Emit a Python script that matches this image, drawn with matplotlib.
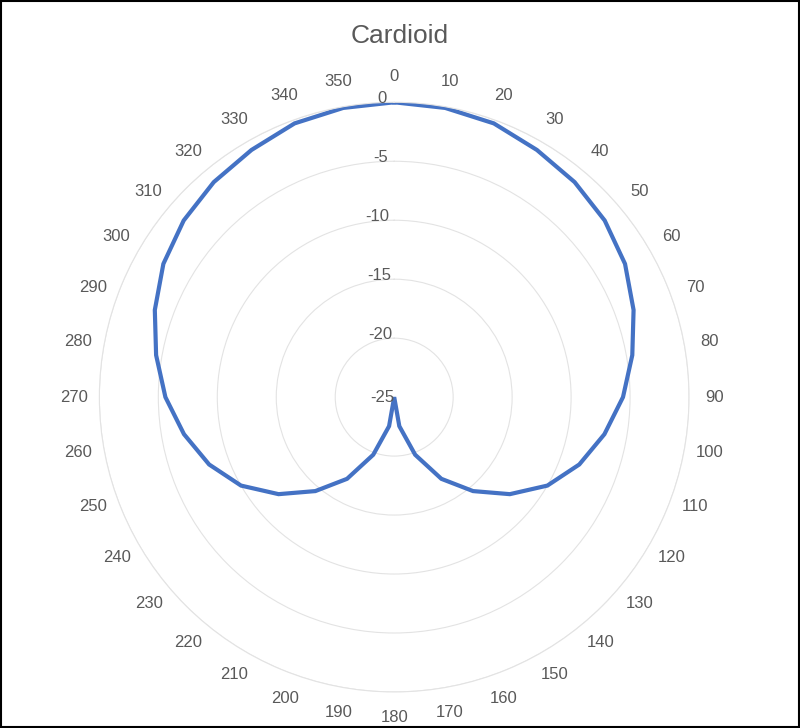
import numpy as np
import matplotlib.pyplot as plt

# angle categories (degrees) and response (dB)
angles = list(range(0, 360, 10))
half = [0, -0.1, -0.3, -0.8, -1.2, -1.7, -2.4, -3.4, -4.5, -5.6,
        -6.9, -8.3, -10.0, -12.2, -14.6, -17.0, -19.8, -22.5, -25.0]
values = half + half[-2:0:-1]
rings = [-25, -20, -15, -10, -5, 0]

plt.rcParams['font.family'] = ['Liberation Sans', 'DejaVu Sans']
fig = plt.figure(figsize=(8, 7.28), dpi=100)
ax = fig.add_axes([0.124, 0.0495, 0.7375, 0.810], projection='polar')
ax.set_theta_zero_location('N')
ax.set_theta_direction(-1)

th = np.deg2rad(angles + [angles[0]])
ax.plot(th, values + [values[0]], color='#4472C4', lw=3, solid_joinstyle='miter')

ax.set_ylim(-25, 0)
ax.set_yticks(rings)
ax.set_yticklabels([])
for r in rings:
    ax.text(np.deg2rad(-1.5), r + 0.35 if r > -25 else -25, str(r), ha='right', va='center',
            fontsize=12, color='#595959')
ax.set_xticks(np.deg2rad(angles))
ax.set_xticklabels([str(a) for a in angles], fontsize=12, color='#595959')
ax.tick_params(axis='x', pad=8)
ax.xaxis.grid(False)
ax.yaxis.grid(True, color='#E3E3E3', lw=0.8)
ax.spines['polar'].set_color('#E3E3E3')
ax.spines['polar'].set_linewidth(0.8)

fig.text(0.5, 0.95, 'Cardioid', ha='center', va='center', fontsize=19, color='#595959')
fig.patches.append(plt.Rectangle((0.001, 0.001), 0.998, 0.998, transform=fig.transFigure,
                                 fill=False, ec='black', lw=1.5))
fig.savefig('out.png', dpi=100)
